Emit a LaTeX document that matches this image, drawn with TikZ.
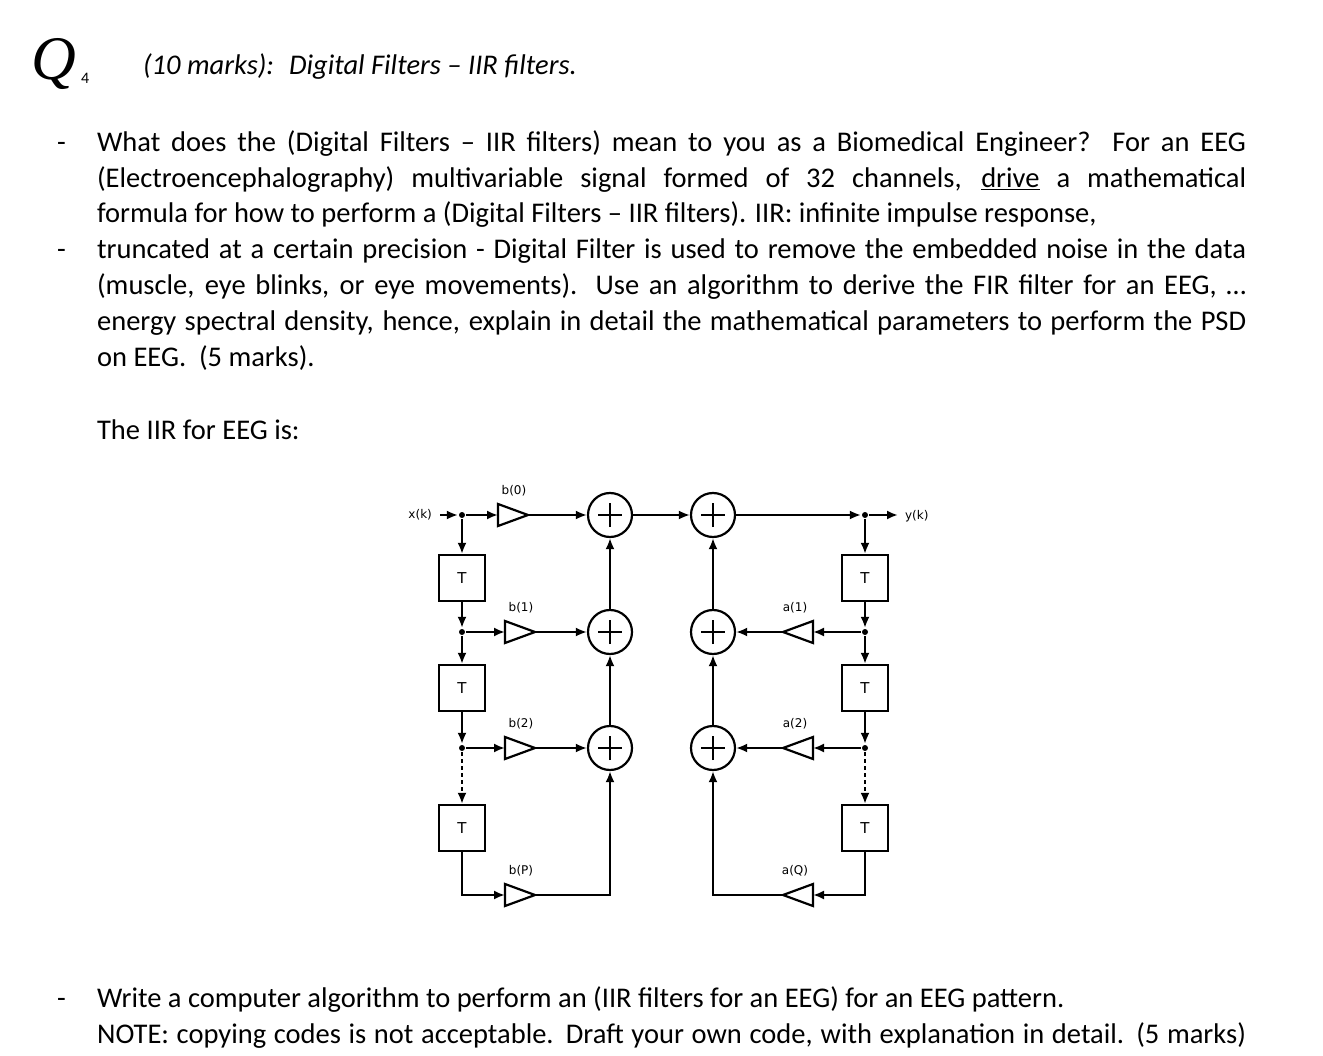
\documentclass[tikz,border=0pt]{standalone}
\usepackage{fontspec}
\setmainfont{Carlito}
\newfontfamily\djfont{DejaVu Sans}
\newfontfamily\qfont{Liberation Serif}
\usetikzlibrary{arrows.meta}
\begin{document}
\begin{tikzpicture}[x=1pt,y=-1pt,
 line width=2.2pt, >={Latex[length=11pt,width=9pt]},
 body/.style={anchor=base west,inner sep=0pt,font=\fontsize{28.5}{32}\selectfont},
 lab/.style={font=\djfont\fontsize{12}{14}\selectfont,inner sep=0pt},
 tbox/.style={draw,minimum size=46pt,inner sep=0pt,font=\djfont\fontsize{15}{16}\selectfont},
 add/.style={draw,circle,minimum size=44pt,inner sep=0pt,path picture={\draw[line width=2.2pt] ([xshift=-12pt]path picture bounding box.center)--([xshift=12pt]path picture bounding box.center) ([yshift=-12pt]path picture bounding box.center)--([yshift=12pt]path picture bounding box.center);}},
 dot/.style={circle,fill,inner sep=0pt,minimum size=6pt}]
\useasboundingbox (0,0) rectangle (1323,1056);
\fill[white] (0,0) rectangle (1323,1056);
% title
\node[anchor=base west,inner sep=0pt,font=\qfont\fontsize{62}{62}\selectfont\itshape] (q) at (30,80) {Q};
\node[anchor=base west,inner sep=0pt,font=\fontsize{16}{16}\selectfont] (q4) at (80,84) {4};
\node[body,font=\fontsize{28.5}{32}\selectfont\itshape] (title) at (142,75) {(10 marks): \ Digital Filters – IIR filters.};
% paragraph
\foreach \y/\n in {152/d1,259/d2,1007/d3} \node[body] (\n) at (56,\y) {-};
\node[body] (l1) at (96,152) {\makebox[1149pt][s]{What does the (Digital Filters – IIR filters) mean to you as a Biomedical Engineer? For an EEG}};
\node[body] (l2) at (96,188) {\makebox[1149pt][s]{(Electroencephalography) multivariable signal formed of 32 channels, \underline{drive} a mathematical}};
\node[body] (l3) at (96,223) {formula for how to perform a (Digital Filters – IIR filters). IIR: infinite impulse response,};
\node[body] (l4) at (96,259) {\makebox[1149pt][s]{truncated at a certain precision - Digital Filter is used to remove the embedded noise in the data}};
\node[body] (l5) at (96,295) {\makebox[1149pt][s]{(muscle, eye blinks, or eye movements). Use an algorithm to derive the FIR filter for an EEG, …}};
\node[body] (l6) at (96,331) {\makebox[1149pt][s]{energy spectral density, hence, explain in detail the mathematical parameters to perform the PSD}};
\node[body] (l7) at (96,367) {on EEG. \ (5 marks).};
\node[body] (l8) at (96,439) {The IIR for EEG is:};
\node[body] (l9) at (96,1007) {Write a computer algorithm to perform an (IIR filters for an EEG) for an EEG pattern.};
\node[body] (l10) at (96,1043) {\makebox[1149pt][s]{NOTE: copying codes is not acceptable. Draft your own code, with explanation in detail. (5 marks)}};
% diagram
\node[lab,anchor=east] (xk) at (433,515) {x(k)};
\node[lab,anchor=west] (yk) at (904,516) {y(k)};
\node[dot] (j0) at (462,515) {};
\node[dot] (j1) at (462,632) {};
\node[dot] (j2) at (462,748) {};
\node[dot] (k0) at (865,515) {};
\node[dot] (k1) at (865,632) {};
\node[dot] (k2) at (865,748) {};
\node[tbox] (t1) at (462,578) {T};
\node[tbox] (t2) at (462,688) {T};
\node[tbox] (t3) at (462,828) {T};
\node[tbox] (u1) at (865,578) {T};
\node[tbox] (u2) at (865,688) {T};
\node[tbox] (u3) at (865,828) {T};
\node[add] (a0) at (610,515) {};
\node[add] (a1) at (610,632) {};
\node[add] (a2) at (610,748) {};
\node[add] (c0) at (713,515) {};
\node[add] (c1) at (713,632) {};
\node[add] (c2) at (713,748) {};
\coordinate (yo) at (898,515);
\coordinate (xi) at (440,515);
% gains
\foreach \n/\x/\y/\t in {g0/498/515/b(0),g1/505/632/b(1),g2/505/748/b(2),g3/505/895/b(P)}{
 \draw (\x,\y-11) -- (\x,\y+11) -- (\x+30,\y) coordinate (\n o) -- cycle;
 \coordinate (\n i) at (\x,\y);
 \node[lab] (\n l) at (\x+16,\y-24) {\t};}
\foreach \n/\x/\y/\t in {h1/813/632/a(1),h2/813/748/a(2),h3/813/895/a(Q)}{
 \draw (\x,\y-11) -- (\x,\y+11) -- (\x-30,\y) coordinate (\n o) -- cycle;
 \coordinate (\n i) at (\x,\y);
 \node[lab] (\n l) at (\x-18,\y-24) {\t};}
% left
\draw[->] (xi) -- (j0);
\draw[->] (j0) -- (g0i);
\draw[->] (g0o) -- (a0);
\draw[->] (j0) -- (t1);
\draw[->] (t1) -- (j1);
\draw[->] (j1) -- (g1i);
\draw[->] (g1o) -- (a1);
\draw[->] (j1) -- (t2);
\draw[->] (t2) -- (j2);
\draw[->] (j2) -- (g2i);
\draw[->] (g2o) -- (a2);
\draw[->,dash pattern=on 4pt off 3pt] (j2) -- (t3);
\draw[->] (t3.south) |- (g3i);
\draw[->] (g3o) -| (a2.south);
\draw[->] (a2) -- (a1);
\draw[->] (a1) -- (a0);
\draw[->] (a0) -- (c0);
% right
\draw[->] (c0) -- (k0);
\draw[->] (k0) -- (yo);
\draw[->] (k0) -- (u1);
\draw[->] (u1) -- (k1);
\draw[->] (k1) -- (h1i);
\draw[->] (h1o) -- (c1);
\draw[->] (k1) -- (u2);
\draw[->] (u2) -- (k2);
\draw[->] (k2) -- (h2i);
\draw[->] (h2o) -- (c2);
\draw[->,dash pattern=on 4pt off 3pt] (k2) -- (u3);
\draw[->] (u3.south) |- (h3i);
\draw[->] (h3o) -| (c2.south);
\draw[->] (c2) -- (c1);
\draw[->] (c1) -- (c0);
\end{tikzpicture}
\end{document}
